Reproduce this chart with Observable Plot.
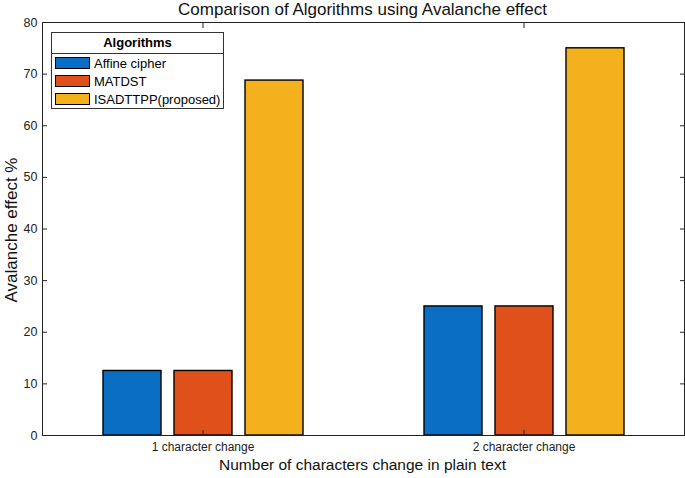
<!DOCTYPE html>
<html>
<head>
<meta charset="utf-8">
<script src="https://cdn.jsdelivr.net/npm/d3@7"></script>
<script src="https://cdn.jsdelivr.net/npm/@observablehq/plot@0.6"></script>
<style>
  body { margin: 0; background: #fff; font-family: "Liberation Sans", Arial, sans-serif; }
  #wrap { position: relative; width: 685px; height: 478px; }
  .title { position: absolute; left: 41px; width: 643px; top: 0; text-align: center; font-size: 17px; color: #111; }
  .xlabel { position: absolute; left: 41px; width: 643px; top: 456px; text-align: center; font-size: 15.5px; color: #111; }
  .ylabel { position: absolute; left: 12px; top: 230px; font-size: 17px; color: #111; white-space: nowrap;
            transform: translate(-50%, -50%) rotate(-90deg); }
  .legend { position: absolute; left: 51px; top: 32px; width: 171px; border: 1px solid #333; background: #fff; font-size: 13px; }
  .legend .head { text-align: center; font-weight: bold; height: 20px; line-height: 20px; border-bottom: 1px solid #333; }
  .legend .row { display: flex; align-items: center; height: 18px; padding-left: 3px; }
  .legend .sw { width: 33px; height: 10px; border: 1.5px solid #000; margin-right: 4px; }
</style>
</head>
<body>
<div id="wrap">
  <div id="chart"></div>
  <div class="title">Comparison of Algorithms using Avalanche effect</div>
  <div class="ylabel">Avalanche effect %</div>
  <div class="xlabel">Number of characters change in plain text</div>
  <div class="legend" id="legend"></div>
</div>
<script>
const categories = ["1 character change", "2 character change"];
const algorithms = ["Affine cipher", "MATDST", "ISADTTPP(proposed)"];
const affine = [12.5, 25];
const matdst = [12.5, 25];
const isadttpp = [68.75, 75];
const colors = ["#0a6fc4", "#e0501a", "#f5b11d"];
const yTicks = [0, 10, 20, 30, 40, 50, 60, 70, 80];

const series = [affine, matdst, isadttpp];
const table = [];
categories.forEach((c, i) => {
  algorithms.forEach((a, j) => table.push({category: c, algorithm: a, value: series[j][i]}));
});

let chart = Plot.plot({
  width: 685,
  height: 478,
  marginTop: 22,
  marginBottom: 43,
  marginLeft: 41,
  marginRight: 1,
  style: {fontFamily: "Liberation Sans, Arial, sans-serif", color: "#222"},
  fx: {domain: categories, padding: 0, label: null},
  x: {domain: algorithms, paddingInner: 0.19, paddingOuter: 0.85, axis: null},
  y: {domain: [0, 80]},
  color: {domain: algorithms, range: colors},
  marks: [
    Plot.barY(table, {fx: "category", x: "algorithm", y: "value", fill: "algorithm", stroke: "black", strokeWidth: 1.4}),
    Plot.frame({facet: "super", stroke: "#222"}),
    Plot.axisY({ticks: yTicks, tickSize: -5, tickPadding: 10, fontSize: 12.5, label: null}),
    Plot.axisY({anchor: "right", ticks: yTicks, tickSize: -5, tickFormat: () => "", label: null}),
    Plot.axisFx({anchor: "bottom", tickSize: -5, tickPadding: 12, fontSize: 12, label: null}),
    Plot.axisFx({anchor: "top", tickSize: -5, tickFormat: () => "", label: null})
  ]
});

d3.select("#chart").append(() => chart);

const legend = d3.select("#legend");
legend.append("div").attr("class", "head").text("Algorithms");
algorithms.forEach((a, i) => {
  const row = legend.append("div").attr("class", "row");
  row.append("div").attr("class", "sw").style("background", colors[i]);
  row.append("span").text(a);
});
</script>
</body>
</html>
